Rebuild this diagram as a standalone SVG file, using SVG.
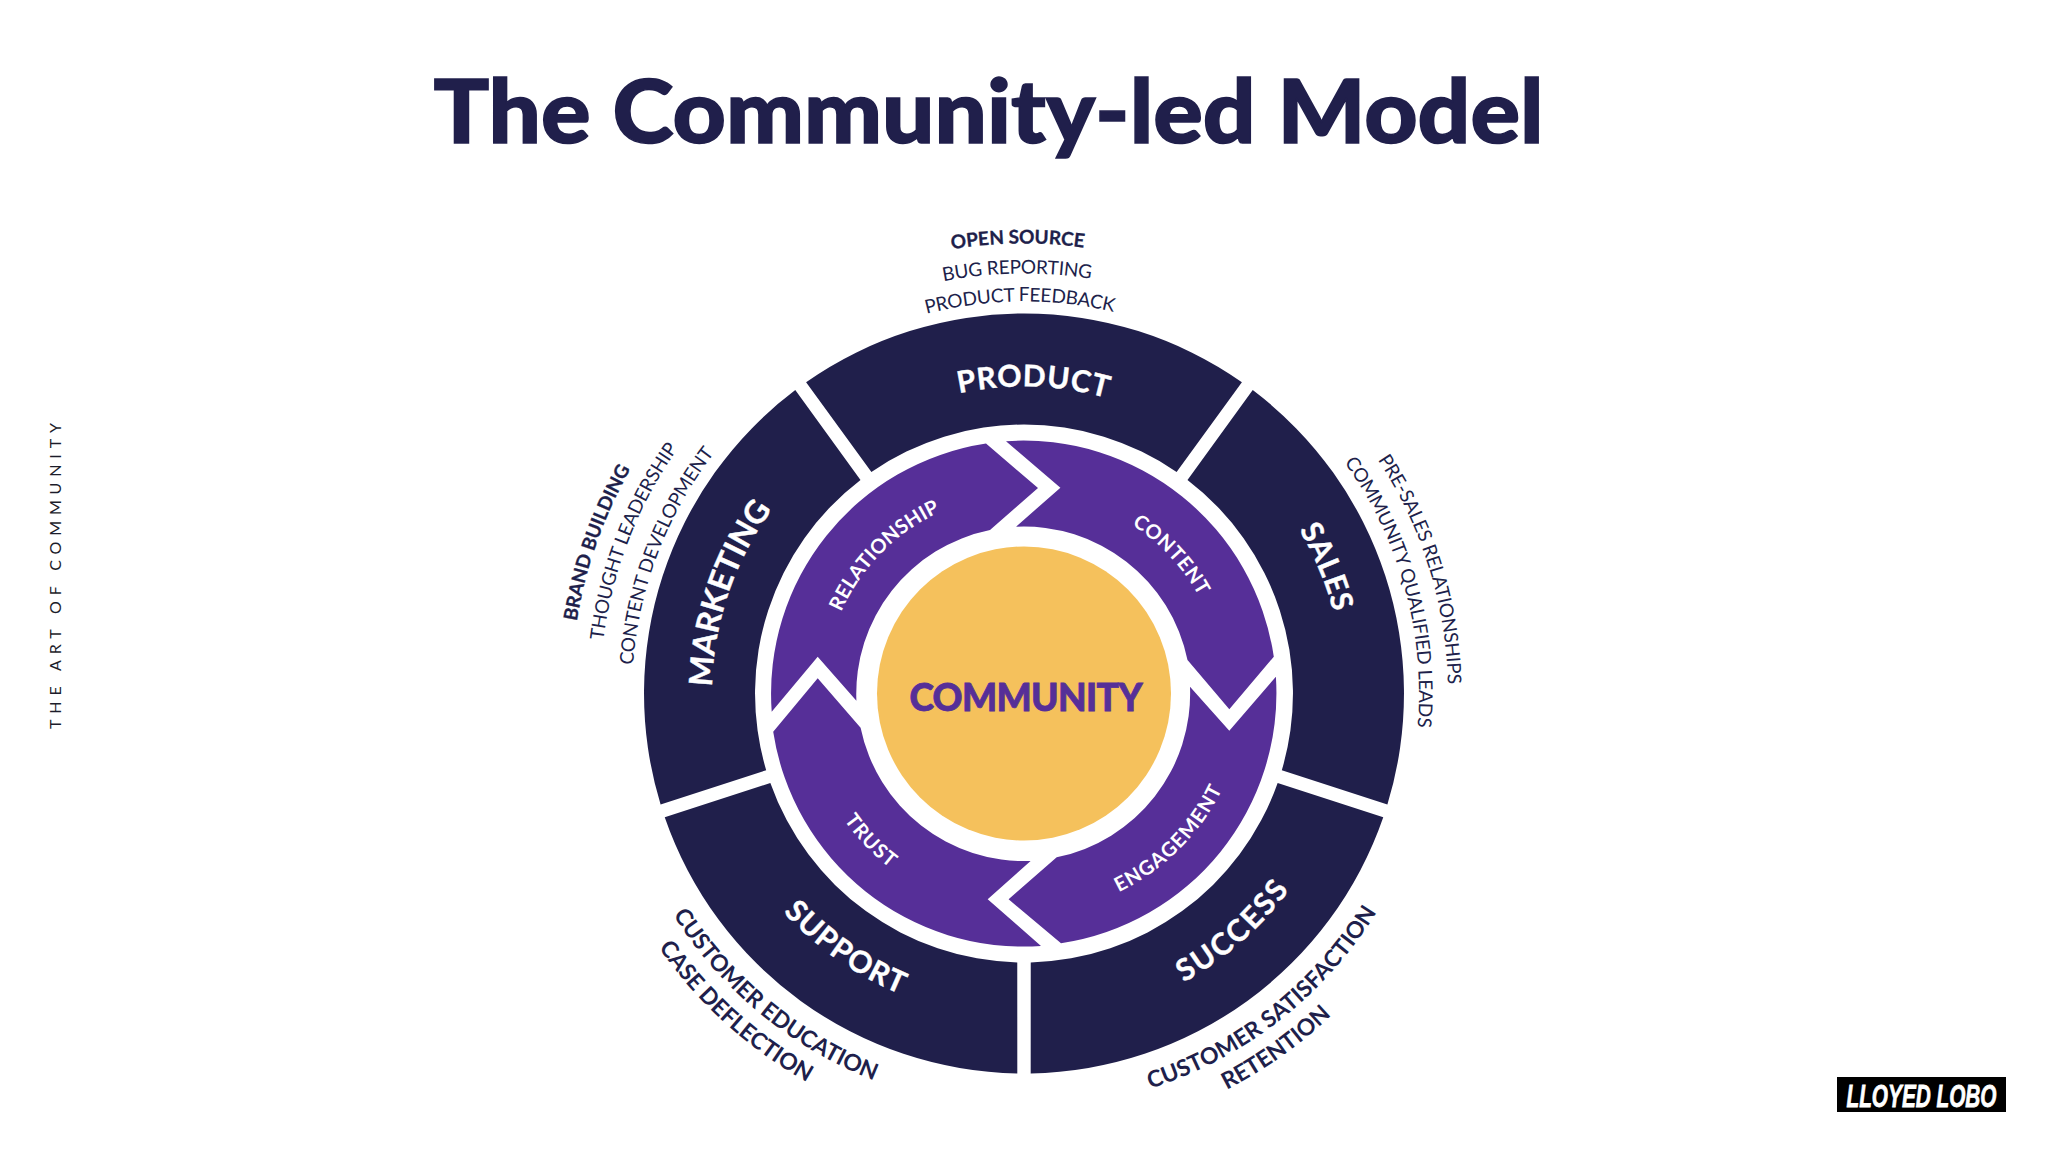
<svg xmlns="http://www.w3.org/2000/svg" xmlns:xlink="http://www.w3.org/1999/xlink" width="2048" height="1152" viewBox="0 0 2048 1152">
<style>
text{font-family:Lato,"Noto Sans",sans-serif;text-anchor:middle}
.seg{fill:#201f4b}
.arrow{fill:#562f98}
.lab{fill:#fff;font-weight:700;font-size:30px;letter-spacing:.8px;stroke:#fff;stroke-width:.4px}
.sm{fill:#fff;font-weight:700;font-size:20px;letter-spacing:.6px}
.out{fill:#201f4b;font-size:19px;letter-spacing:-.2px}
.outb{fill:#201f4b;font-size:19px;font-weight:700;stroke:#201f4b;stroke-width:.3px}
.big{fill:#201f4b;font-size:23px;font-weight:700;letter-spacing:-.1px}
</style>
<defs>
<path id="c200" d="M1024,893.5A200,200 0 1 1 1024,493.5A200,200 0 1 1 1024,893.5"/>
<path id="c307" d="M1024,1000.5A307,307 0 1 1 1024,386.5A307,307 0 1 1 1024,1000.5"/>
<path id="c312" d="M1024,1005.5A312,312 0 1 1 1024,381.5A312,312 0 1 1 1024,1005.5"/>
<path id="c320" d="M1024,1013.5A320,320 0 1 1 1024,373.5A320,320 0 1 1 1024,1013.5"/>
<path id="c392" d="M1024,1085.5A392,392 0 1 1 1024,301.5A392,392 0 1 1 1024,1085.5"/>
<path id="c395" d="M1024,1088.5A395,395 0 1 1 1024,298.5A395,395 0 1 1 1024,1088.5"/>
<path id="c420" d="M1024,1113.5A420,420 0 1 1 1024,273.5A420,420 0 1 1 1024,1113.5"/>
<path id="c424" d="M1024,1117.5A424,424 0 1 1 1024,269.5A424,424 0 1 1 1024,1117.5"/>
<path id="c450" d="M1024,1143.5A450,450 0 1 1 1024,243.5A450,450 0 1 1 1024,1143.5"/>
<path id="c453" d="M1024,1146.5A453,453 0 1 1 1024,240.5A453,453 0 1 1 1024,1146.5"/>
<path id="a220" d="M1024,473.5A220,220 0 1 0 1024,913.5A220,220 0 1 0 1024,473.5"/>
<path id="a325" d="M1024,368.5A325,325 0 1 0 1024,1018.5A325,325 0 1 0 1024,368.5"/>
<path id="a330" d="M1024,363.5A330,330 0 1 0 1024,1023.5A330,330 0 1 0 1024,363.5"/>
<path id="a415" d="M1024,278.5A415,415 0 1 0 1024,1108.5A415,415 0 1 0 1024,278.5"/>
<path id="a445" d="M1024,248.5A445,445 0 1 0 1024,1138.5A445,445 0 1 0 1024,248.5"/>
<path id="segshape" d="M806.1,382.2A380,380 0 0 1 1241.9,382.2L1176.6,472A269,269 0 0 0 871.4,472Z"/>
</defs>
<rect width="2048" height="1152" fill="#fff"/>
<text x="988.5" y="143" font-size="88" font-weight="900" fill="#201f4b" stroke="#201f4b" stroke-width="1.5" textLength="1110" lengthAdjust="spacingAndGlyphs">The Community-led Model</text>
<text transform="translate(61,576) rotate(-90)" font-size="16" fill="#1c1c2a" textLength="306">THE ART OF COMMUNITY</text>
<g id="segment-product"><use href="#segshape" class="seg"/><text class="lab"><textPath href="#c307" startOffset="50.5%">PRODUCT</textPath></text></g>
<g id="segment-sales"><use href="#segshape" class="seg" transform="rotate(72 1024 693.5)"/><text class="lab"><textPath href="#c320" startOffset="68.7%">SALES</textPath></text></g>
<g id="segment-success"><use href="#segshape" class="seg" transform="rotate(144 1024 693.5)"/><text class="lab" style="letter-spacing:2.2px"><textPath href="#a330" startOffset="61.5%">SUCCESS</textPath></text></g>
<g id="segment-support"><use href="#segshape" class="seg" transform="rotate(216 1024 693.5)"/><text class="lab" style="letter-spacing:1.2px"><textPath href="#a325" startOffset="40.3%">SUPPORT</textPath></text></g>
<g id="segment-marketing"><use href="#segshape" class="seg" transform="rotate(288 1024 693.5)"/><text class="lab" style="font-size:32px;letter-spacing:0"><textPath href="#c312" startOffset="30.2%">MARKETING</textPath></text></g>
<g id="arrow-relationship"><path class="arrow" d="M771.7,711.7A253,253 0 0 1 986,443.5L1038,488L990,530A167,167 0 0 0 856.4,700.7L817.7,656.7Z"/><text class="sm" style="letter-spacing:.2px"><textPath href="#c200" startOffset="37.4%">RELATIONSHIP</textPath></text></g>
<g id="arrow-content"><path class="arrow" d="M1006,441.2A253,253 0 0 1 1273.8,656.7L1229.3,709.3L1187.5,660A167,167 0 0 0 1016,526.7L1060.4,487.7Z"/><text class="sm"><textPath href="#c200" startOffset="63%">CONTENT</textPath></text></g>
<g id="arrow-engagement"><path class="arrow" d="M1275.9,676.7A253,253 0 0 1 1061,943.3L1008.6,899.3L1056.7,857.3A167,167 0 0 0 1190,686.7L1229.3,730.7Z"/><text class="sm" style="letter-spacing:1.1px"><textPath href="#a220" startOffset="62.5%">ENGAGEMENT</textPath></text></g>
<g id="arrow-trust"><path class="arrow" d="M1041,946A253,253 0 0 1 773.2,731.7L817.7,678.3L860.6,727.7A167,167 0 0 0 1030.6,861L987.7,899.3Z"/><text class="sm" style="letter-spacing:1px"><textPath href="#a220" startOffset="37.2%">TRUST</textPath></text></g>
<g id="community"><circle cx="1024" cy="693.5" r="147" fill="#f5c15c"/><text x="1026" y="711" font-size="37" font-weight="900" fill="#562f98" stroke="#562f98" stroke-width=".8" textLength="233">COMMUNITY</text></g>
<g id="notes-product">
<text class="outb"><textPath href="#c450" startOffset="49.78%">OPEN SOURCE</textPath></text>
<text class="out"><textPath href="#c420" startOffset="49.74%">BUG REPORTING</textPath></text>
<text class="out"><textPath href="#c392" startOffset="49.83%">PRODUCT FEEDBACK</textPath></text>
</g>
<g id="notes-sales">
<text class="out"><textPath href="#c424" startOffset="70.17%">PRE-SALES RELATIONSHIPS</textPath></text>
<text class="out"><textPath href="#c395" startOffset="70.7%">COMMUNITY QUALIFIED LEADS</textPath></text>
</g>
<g id="notes-marketing">
<text class="outb"><textPath href="#c453" startOffset="30.4%">BRAND BUILDING</textPath></text>
<text class="out"><textPath href="#c424" startOffset="30.9%">THOUGHT LEADERSHIP</textPath></text>
<text class="out"><textPath href="#c392" startOffset="30.83%">CONTENT DEVELOPMENT</textPath></text>
</g>
<g id="notes-support">
<text class="big"><textPath href="#a415" startOffset="39.03%">CUSTOMER EDUCATION</textPath></text>
<text class="big"><textPath href="#a445" startOffset="38.28%">CASE DEFLECTION</textPath></text>
</g>
<g id="notes-success">
<text class="big" style="letter-spacing:.1px"><textPath href="#a415" startOffset="60.55%">CUSTOMER SATISFACTION</textPath></text>
<text class="big"><textPath href="#a445" startOffset="59.83%">RETENTION</textPath></text>
</g>
<g id="logo"><rect x="1837" y="1077" width="169" height="35" fill="#000"/><text x="1921.5" y="1107" font-size="32" font-weight="700" font-style="italic" fill="#fff" stroke="#fff" stroke-width=".8" style="font-family:'Liberation Sans Narrow','Liberation Sans',sans-serif" textLength="150" lengthAdjust="spacingAndGlyphs">LLOYED LOBO</text></g>
</svg>
